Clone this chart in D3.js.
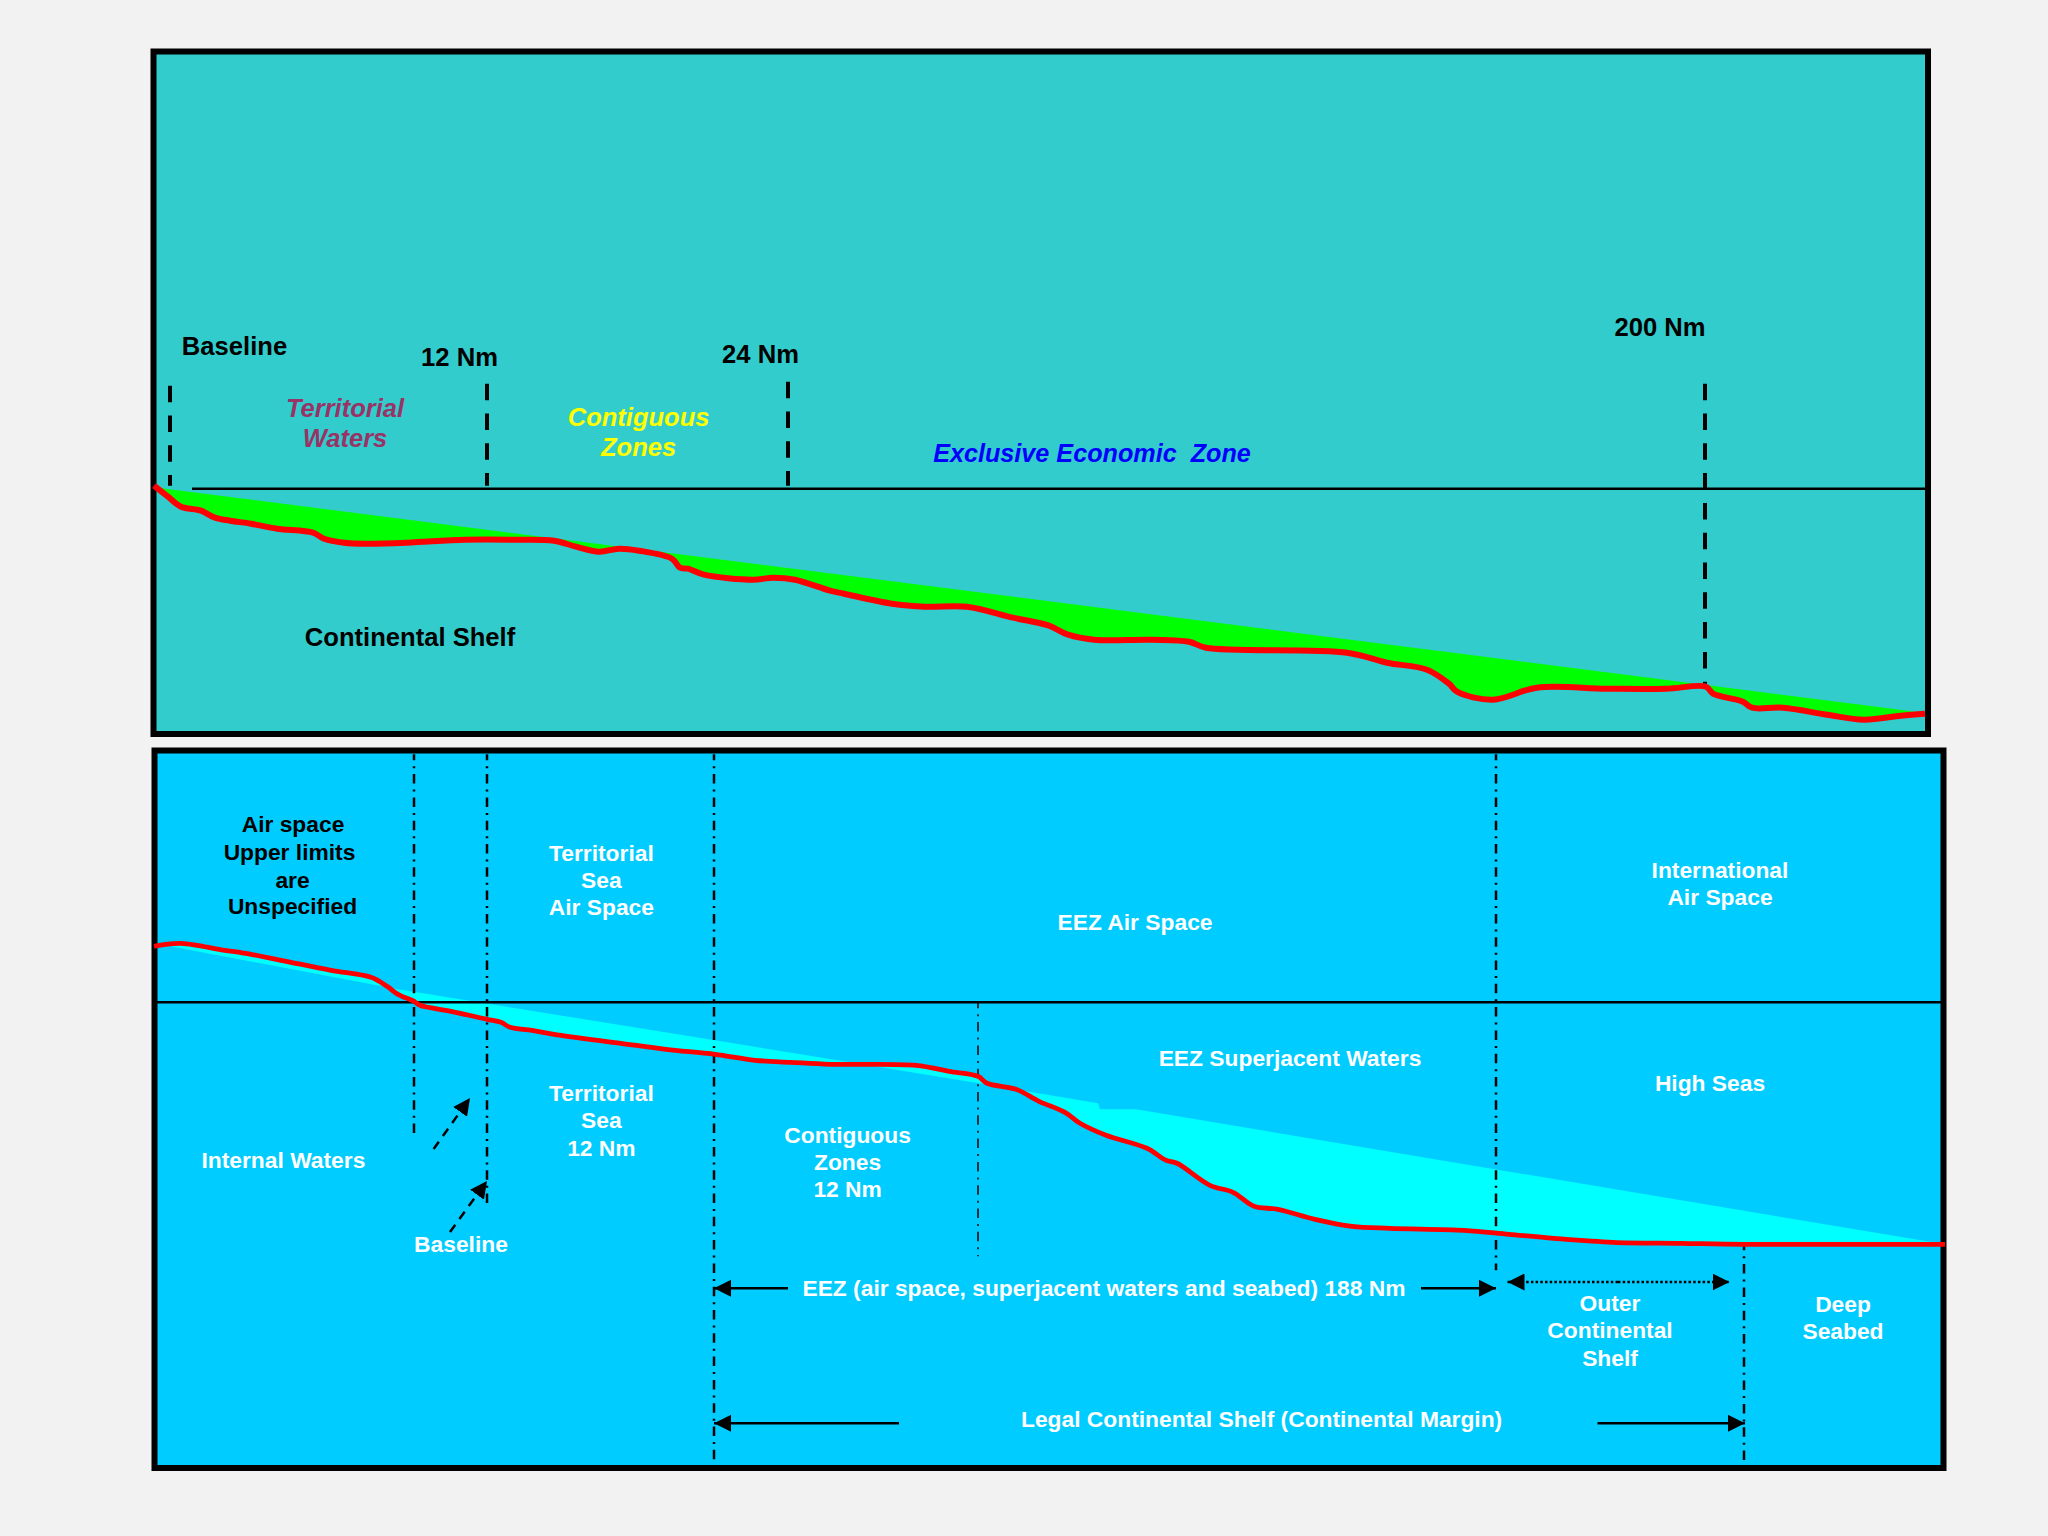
<!DOCTYPE html>
<html>
<head>
    <meta charset="utf-8" />
    <title>Maritime zones</title>
    <script src="https://d3js.org/d3.v7.min.js"></script>
    <style>
        html, body {
            margin: 0;
            background-color: #f2f2f2;
        }
        svg {
            display: block;
        }
        text {
            font-family: 'Liberation Sans', Arial, sans-serif;
            font-weight: bold;
            text-anchor: middle;
            white-space: pre;
        }
    </style>
</head>
<body>
    <div class="canvas"></div>
    <script>
        // upper panel: seabed profile, distance along the panel / depth below sea level
        var shelfDistance = [-3,11,24,44,58,73,94,120,156,167,187,210,250,308,357,397,419,442,462,482,515,523,531,547,596,616,638,673,687,735,768,810,856,892,911,937,995,1032,1049,1190,1230,1270,1292,1300,1336,1380,1450,1509,1549,1556,1586,1595,1626,1670,1707,1744,1768];
        var shelfDepth = [-3,8,18,22,29,32,35,40,44,50,54,55,54,51,51,52,58,63,60,62,70,79,80,86,91,89,91,102,105,115,118,118,129,137,146,151,151,153,159,164,174,181,195,203,211,199,200,200,198,205,213,219,219,226,231,227,225];
        var shelfSlopeDistance = [8,1751];
        var shelfSlopeDepth = [0,222];

        // upper panel: dashed limits
        var limitNames = ["Baseline","12 Nm","24 Nm","200 Nm"];
        var limitDistance = [13,330,631,1548];
        var limitTop = [-103,-105,-107,-105];
        var limitBottom = [-3,-3,-3,195];

        // lower panel: seabed profile
        var marginDistance = [-3,9,24,40,62,94,129,174,214,230,241,257,263,294,330,344,353,375,397,464,509,558,598,634,673,759,792,821,830,859,882,908,923,949,990,1009,1020,1053,1076,1097,1121,1158,1195,1233,1307,1352,1397,1456,1524,1587,1788];
        var marginDepth = [-56,-58,-59,-57,-53,-48,-41,-32,-25,-16,-8,-1,3,9,17,20,25,28,32,41,47,52,58,60,62,63,69,74,81,87,99,110,121,133,146,158,161,183,190,204,207,217,224,226,228,232,236,240,241,242,242];
        var marginSlopeDistance = [8,241,558,822,941,943,979,1770];
        var marginSlopeDepth = [-57,-13,38,81,101,107,107,239];

        // lower panel: dash-dot boundaries
        var boundaryDistance = [257,330,557,821,1339,1587];
        var boundaryTop = [-248,-248,-248,0,-248,242];
        var boundaryBottom = [133,203,457,254,268,462];
        var boundaryWidth = [2.5,2.5,2.5,1.5,2.5,2.5];

        var width = 2048, height = 1536;

        var svg = d3.select(".canvas")
                    .append("svg")
                    .attr("width", width)
                    .attr("height", height);

        svg.append("defs").append("marker")
            .attr("id", "head")
            .attr("viewBox", "0 0 17 17")
            .attr("refX", 17)
            .attr("refY", 8.5)
            .attr("markerWidth", 17)
            .attr("markerHeight", 17)
            .attr("markerUnits", "userSpaceOnUse")
            .attr("orient", "auto-start-reverse")
            .append("path")
            .attr("d", "M0,0L17,8.5L0,17Z")
            .attr("fill", "#000");

        var xTop = d3.scaleLinear().domain([0, 1768]).range([157, 1925]);
        var yTop = d3.scaleLinear().domain([0, 242]).range([488.7, 730.7]);
        var xLow = d3.scaleLinear().domain([0, 1785]).range([157, 1942]);
        var yLow = d3.scaleLinear().domain([0, 462]).range([1002.3, 1464.3]);

        function drawProfile(pane, x, y, dist, depth, slopeDist, slopeDepth, fill, lineWidth) {
            var line = d3.line().x(function(d) { return x(d[0]); }).y(function(d) { return y(d[1]); });
            var profile = d3.zip(dist, depth);
            var slope = d3.zip(slopeDist, slopeDepth);
            pane.append("path")
                .attr("d", line(slope.concat(profile.slice().reverse())) + "Z")
                .attr("fill", fill);
            return function() {
                pane.append("path")
                    .attr("d", line.curve(d3.curveCatmullRom.alpha(0.5))(profile))
                    .attr("fill", "none")
                    .attr("stroke", "#ff0000")
                    .attr("stroke-width", lineWidth)
                    .attr("stroke-linejoin", "round");
            };
        }

        function hline(pane, x1, x2, y, w) {
            pane.append("line")
                .attr("x1", x1).attr("x2", x2)
                .attr("y1", y).attr("y2", y)
                .attr("stroke", "#000")
                .attr("stroke-width", w);
        }

        function label(pane, lines, cx, ys, size, color, italic) {
            lines.forEach(function(t, i) {
                pane.append("text")
                    .attr("x", cx)
                    .attr("y", ys[i])
                    .attr("dy", "0.36em")
                    .attr("font-size", size)
                    .attr("fill", color)
                    .attr("font-style", italic ? "italic" : "normal")
                    .text(t);
            });
        }

        function arrow(pane, x1, y1, x2, y2, opts) {
            var l = pane.append("line")
                .attr("x1", x1).attr("y1", y1)
                .attr("x2", x2).attr("y2", y2)
                .attr("stroke", "#000")
                .attr("stroke-width", opts.w || 2.5)
                .attr("marker-end", "url(#head)");
            if (opts.dash) l.attr("stroke-dasharray", opts.dash);
        }

        // ---- upper panel ----
        var topPane = svg.append("g");
        topPane.append("rect")
            .attr("x", 153.5).attr("y", 51.5)
            .attr("width", 1774.5).attr("height", 682.5)
            .attr("fill", "#33cccc");

        var drawShelfLine = drawProfile(topPane, xTop, yTop, shelfDistance, shelfDepth, shelfSlopeDistance, shelfSlopeDepth, "#00ff00", 6);

        hline(topPane, xTop(35), xTop(1768), yTop(0), 2.5);

        limitNames.forEach(function(n, i) {
            topPane.append("line")
                .attr("x1", xTop(limitDistance[i])).attr("x2", xTop(limitDistance[i]))
                .attr("y1", yTop(limitTop[i])).attr("y2", yTop(limitBottom[i]))
                .attr("stroke", "#000")
                .attr("stroke-width", 4)
                .attr("stroke-dasharray", "16.5 13.3");
        });

        label(topPane, ["Baseline"], 234.5, [346], 25.6, "#000");
        label(topPane, ["12 Nm"], 459.5, [356.5], 25.6, "#000");
        label(topPane, ["24 Nm"], 760.5, [354], 25.6, "#000");
        label(topPane, ["200 Nm"], 1660, [326.5], 25.6, "#000");
        label(topPane, ["Territorial", "Waters"], 345, [407.5, 438], 25.5, "#993366", true);
        label(topPane, ["Contiguous", "Zones"], 638.6, [417, 447], 25.5, "#ffff00", true);
        label(topPane, ["Exclusive Economic  Zone"], 1092, [453], 25.2, "#0000ff", true);
        label(topPane, ["Continental Shelf"], 410, [636.5], 25.6, "#000");

        topPane.append("rect")
            .attr("x", 153.5).attr("y", 51.5)
            .attr("width", 1774.5).attr("height", 682.5)
            .attr("fill", "none")
            .attr("stroke", "#000")
            .attr("stroke-width", 6);

        drawShelfLine();

        // ---- lower panel ----
        var lowPane = svg.append("g");
        lowPane.append("rect")
            .attr("x", 154.5).attr("y", 750.5)
            .attr("width", 1789).attr("height", 717.5)
            .attr("fill", "#00ccff");

        var drawMarginLine = drawProfile(lowPane, xLow, yLow, marginDistance, marginDepth, marginSlopeDistance, marginSlopeDepth, "#00ffff", 4.8);

        hline(lowPane, xLow(0), xLow(1785), yLow(0), 2.5);

        boundaryDistance.forEach(function(b, i) {
            lowPane.append("line")
                .attr("x1", xLow(b)).attr("x2", xLow(b))
                .attr("y1", yLow(boundaryTop[i])).attr("y2", yLow(boundaryBottom[i]))
                .attr("stroke", "#000")
                .attr("stroke-width", boundaryWidth[i])
                .attr("stroke-dasharray", "9.5 6 2 5.8")
                .attr("stroke-dashoffset", 3.5);
        });

        // arrows pointing at the baseline limits
        arrow(lowPane, 433.6, 1149, 470, 1098, { dash: "9 7" });
        arrow(lowPane, 450, 1232, 487, 1181, { dash: "9 7" });

        // span arrows
        arrow(lowPane, 788, 1288.3, 714, 1288.3, {});
        arrow(lowPane, 1421, 1288.3, 1496, 1288.3, {});
        arrow(lowPane, 1618, 1282, 1507.5, 1282, { dash: "2.5 2.2" });
        arrow(lowPane, 1618, 1282, 1729.5, 1282, { dash: "2.5 2.2" });
        arrow(lowPane, 899, 1423.3, 714, 1423.3, {});
        arrow(lowPane, 1597.5, 1423.3, 1745, 1423.3, {});

        label(lowPane, ["Air space"], 293, [824], 22.8, "#000");
        label(lowPane, ["Upper limits"], 289.5, [852], 22.8, "#000");
        label(lowPane, ["are", "Unspecified"], 292.5, [879.5, 906], 22.8, "#000");
        label(lowPane, ["Territorial", "Sea", "Air Space"], 601.4, [852.5, 879.5, 907], 22.8, "#fff");
        label(lowPane, ["EEZ Air Space"], 1135, [921.5], 22.8, "#fff");
        label(lowPane, ["International", "Air Space"], 1720, [869.5, 896.5], 22.8, "#fff");
        label(lowPane, ["EEZ Superjacent Waters"], 1290, [1057.5], 22.8, "#fff");
        label(lowPane, ["High Seas"], 1710, [1082.5], 22.8, "#fff");
        label(lowPane, ["Territorial", "Sea", "12 Nm"], 601.4, [1092.5, 1120, 1147.5], 22.8, "#fff");
        label(lowPane, ["Internal Waters"], 283.4, [1159.5], 22.8, "#fff");
        label(lowPane, ["Contiguous", "Zones", "12 Nm"], 847.6, [1134.5, 1161.5, 1189], 22.8, "#fff");
        label(lowPane, ["Baseline"], 461, [1244], 22.8, "#fff");
        label(lowPane, ["EEZ (air space, superjacent waters and seabed) 188 Nm"], 1104, [1288], 22.8, "#fff");
        label(lowPane, ["Outer", "Continental", "Shelf"], 1610, [1302.5, 1330, 1357.5], 22.8, "#fff");
        label(lowPane, ["Deep", "Seabed"], 1843, [1304, 1331], 22.8, "#fff");
        label(lowPane, ["Legal Continental Shelf (Continental Margin)"], 1261.6, [1419], 22.8, "#fff");

        lowPane.append("rect")
            .attr("x", 154.5).attr("y", 750.5)
            .attr("width", 1789).attr("height", 717.5)
            .attr("fill", "none")
            .attr("stroke", "#000")
            .attr("stroke-width", 6);

        drawMarginLine();
    </script>
</body>
</html>
